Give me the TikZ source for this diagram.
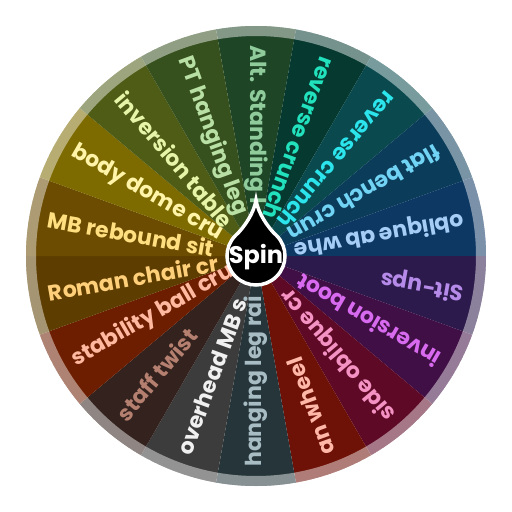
\documentclass[tikz,border=0pt]{standalone}
\usepackage{fontspec}
\setmainfont{Poppins}

\definecolor{bgA}{HTML}{1E4526}
\definecolor{txA}{HTML}{8FCB9B}
\definecolor{bgB}{HTML}{06392F}
\definecolor{txB}{HTML}{22E2BE}
\definecolor{bgC}{HTML}{0A4A4E}
\definecolor{txC}{HTML}{2CE5EC}
\definecolor{bgD}{HTML}{0B3D5A}
\definecolor{txD}{HTML}{72D4F5}
\definecolor{bgE}{HTML}{0D3864}
\definecolor{txE}{HTML}{A5CDF5}
\definecolor{bgF}{HTML}{2C1A4C}
\definecolor{txF}{HTML}{B58AE8}
\definecolor{bgG}{HTML}{400F45}
\definecolor{txG}{HTML}{D86AF0}
\definecolor{bgH}{HTML}{5E0A26}
\definecolor{txH}{HTML}{F592C4}
\definecolor{bgI}{HTML}{6E1208}
\definecolor{txI}{HTML}{FFB8A8}
\definecolor{bgJ}{HTML}{263539}
\definecolor{txJ}{HTML}{A8BCC4}
\definecolor{bgK}{HTML}{3C3C3C}
\definecolor{txK}{HTML}{F0F0F0}
\definecolor{bgL}{HTML}{33221E}
\definecolor{txL}{HTML}{B58070}
\definecolor{bgM}{HTML}{6E1E00}
\definecolor{txM}{HTML}{FFB9A0}
\definecolor{bgN}{HTML}{5E3E00}
\definecolor{txN}{HTML}{FFCF7A}
\definecolor{bgO}{HTML}{6B4C00}
\definecolor{txO}{HTML}{FFDF80}
\definecolor{bgP}{HTML}{7D6B00}
\definecolor{txP}{HTML}{FFF4A8}
\definecolor{bgQ}{HTML}{4E5C16}
\definecolor{txQ}{HTML}{E6F5A8}
\definecolor{bgR}{HTML}{36501E}
\definecolor{txR}{HTML}{B8E0A4}

\begin{document}
\begin{tikzpicture}[
		x = 1pt,
		y = 1pt,
		lbl/.style = {
			anchor = west,
			inner sep = 0,
			font = \bfseries\fontsize{22}{26}\selectfont
		},
		rim/.style = {
			fill = white,
			fill opacity = 0.45,
			even odd rule
		},
		hub/.style = {
			draw = white,
			fill = black,
			line width = 3.5pt
		}
	]
	\useasboundingbox (-256, -256) rectangle (256, 256);
	\coordinate (o) at (0, 0);

	% wheel segments
	\fill [bgA] (o) -- (80:230) arc [start angle = 80, end angle = 100, radius = 230] -- cycle;
	\fill [bgB] (o) -- (60:230) arc [start angle = 60, end angle = 80, radius = 230] -- cycle;
	\fill [bgC] (o) -- (40:230) arc [start angle = 40, end angle = 60, radius = 230] -- cycle;
	\fill [bgD] (o) -- (20:230) arc [start angle = 20, end angle = 40, radius = 230] -- cycle;
	\fill [bgE] (o) -- (0:230) arc [start angle = 0, end angle = 20, radius = 230] -- cycle;
	\fill [bgF] (o) -- (-20:230) arc [start angle = -20, end angle = 0, radius = 230] -- cycle;
	\fill [bgG] (o) -- (-40:230) arc [start angle = -40, end angle = -20, radius = 230] -- cycle;
	\fill [bgH] (o) -- (-60:230) arc [start angle = -60, end angle = -40, radius = 230] -- cycle;
	\fill [bgI] (o) -- (-80:230) arc [start angle = -80, end angle = -60, radius = 230] -- cycle;
	\fill [bgJ] (o) -- (-100:230) arc [start angle = -100, end angle = -80, radius = 230] -- cycle;
	\fill [bgK] (o) -- (-120:230) arc [start angle = -120, end angle = -100, radius = 230] -- cycle;
	\fill [bgL] (o) -- (-140:230) arc [start angle = -140, end angle = -120, radius = 230] -- cycle;
	\fill [bgM] (o) -- (-160:230) arc [start angle = -160, end angle = -140, radius = 230] -- cycle;
	\fill [bgN] (o) -- (-180:230) arc [start angle = -180, end angle = -160, radius = 230] -- cycle;
	\fill [bgO] (o) -- (160:230) arc [start angle = 160, end angle = 180, radius = 230] -- cycle;
	\fill [bgP] (o) -- (140:230) arc [start angle = 140, end angle = 160, radius = 230] -- cycle;
	\fill [bgQ] (o) -- (120:230) arc [start angle = 120, end angle = 140, radius = 230] -- cycle;
	\fill [bgR] (o) -- (100:230) arc [start angle = 100, end angle = 120, radius = 230] -- cycle;

	% pale outer ring
	\fill [rim] (o) circle (230) (o) circle (220);

	% labels, read from the rim inwards
	\node [lbl, text = txA, rotate = 270] (altstand) at (90:211) {Alt. Standing l};
	\node [lbl, text = txB, rotate = 250] (revone) at (70:211) {reverse crunch};
	\node [lbl, text = txC, rotate = 230] (revtwo) at (50:211) {reverse crunch};
	\node [lbl, text = txD, rotate = 210] (flatbench) at (30:211) {flat bench crun};
	\node [lbl, text = txE, rotate = 190] (obliqueab) at (10:211) {oblique ab whe};
	\node [lbl, text = txF, rotate = 170] (situps) at (-10:211) {Sit-ups};
	\node [lbl, text = txG, rotate = 150] (invboot) at (-30:211) {inversion boot};
	\node [lbl, text = txH, rotate = 130] (sideobl) at (-50:211) {side oblique cr};
	\node [lbl, text = txI, rotate = 110] (anwheel) at (-70:211) {an wheel};
	\node [lbl, text = txJ, rotate = 90] (hangleg) at (-90:211) {hanging leg rai};
	\node [lbl, text = txK, rotate = 70] (overmb) at (-110:211) {overhead MB s};
	\node [lbl, text = txL, rotate = 50] (staff) at (-130:211) {staff twist};
	\node [lbl, text = txM, rotate = 30] (stabball) at (-150:211) {stability ball cru};
	\node [lbl, text = txN, rotate = 10] (roman) at (-170:211) {Roman chair cr};
	\node [lbl, text = txO, rotate = -10] (mbreb) at (170:211) {MB rebound sit};
	\node [lbl, text = txP, rotate = -30] (bodydome) at (150:211) {body dome cru};
	\node [lbl, text = txQ, rotate = -50] (invtable) at (130:211) {inversion table};
	\node [lbl, text = txR, rotate = -70] (pthang) at (110:211) {PT hanging leg};

	% spin button with pointer
	\draw [hub] (0, 56) .. controls (-1.5, 44) and (-12, 28) .. (135:29)
		arc [start angle = 135, end angle = 405, radius = 29]
		.. controls (12, 28) and (1.5, 44) .. (0, 56) -- cycle;
	\node [text = white, font = \bfseries\fontsize{24}{28}\selectfont] (spin) at (0, -1) {Spin};
\end{tikzpicture}
\end{document}
